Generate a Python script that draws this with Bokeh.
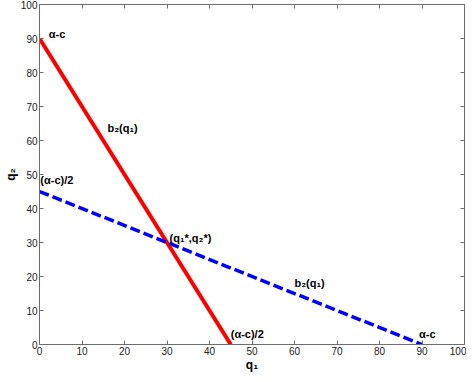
from bokeh.plotting import figure
from bokeh.models import LinearAxis, Range1d, FixedTicker, ColumnDataSource
from bokeh.core.properties import value
from bokeh.embed import file_html
from bokeh.resources import INLINE

# Data
red_q1 = [0, 45]
red_q2 = [90, 0]
blue_q1 = [0, 90]
blue_q2 = [45, 0]
ticks = [0, 10, 20, 30, 40, 50, 60, 70, 80, 90, 100]

label_x = [2.2, 16.0, 0.2, 30.6, 60.0, 45.0, 89.3]
label_y = [91.2, 63.6, 48.4, 31.4, 18.0, 3.0, 3.0]
label_t = ["α-c", "b₂(q₁)", "(α-c)/2", "(q₁*,q₂*)", "b₂(q₁)", "(α-c)/2", "α-c"]

FONT = "Liberation Sans"
AX = "#6e6e6e"

p = figure(width=466, height=374, output_backend="svg", toolbar_location=None,
           x_range=Range1d(0, 100), y_range=Range1d(0, 100),
           min_border_left=2, min_border_right=2, min_border_top=4, min_border_bottom=2)
p.grid.visible = False
p.outline_line_color = AX
p.outline_line_width = 1
p.background_fill_color = "white"

for ax in (p.xaxis[0], p.yaxis[0]):
    ax.ticker = FixedTicker(ticks=ticks)
    ax.major_tick_in = 4
    ax.major_tick_out = 0
    ax.minor_tick_line_color = None
    ax.axis_line_color = AX
    ax.major_tick_line_color = AX
    ax.major_label_text_font = FONT
    ax.major_label_text_font_size = "10px"
    ax.major_label_text_color = "#222222"
    ax.major_label_standoff = 2
    ax.axis_label_text_font = FONT
    ax.axis_label_text_font_style = "bold"
    ax.axis_label_text_font_size = "12px"
    ax.axis_label_text_color = "black"
    ax.axis_label_standoff = 0

p.xaxis[0].axis_label = "q₁"
p.yaxis[0].axis_label = "q₂"

for loc in ("above", "right"):
    a = LinearAxis(ticker=FixedTicker(ticks=ticks))
    a.major_tick_in = 4
    a.major_tick_out = 0
    a.minor_tick_line_color = None
    a.axis_line_color = AX
    a.major_tick_line_color = AX
    a.major_label_text_font_size = "1px"
    a.major_label_text_color = None
    a.major_label_standoff = 0
    p.add_layout(a, loc)

p.line(red_q1, red_q2, line_color="#ff0000", line_width=4)
p.line(blue_q1, blue_q2, line_color="#0000ff", line_width=3.5, line_dash="10 4")

src = ColumnDataSource(dict(x=label_x, y=label_y, t=label_t))
p.text(x="x", y="y", text="t", source=src, text_font=value(FONT),
       text_font_style="bold", text_font_size="11px", text_color="black",
       text_baseline="middle", text_align="left")

open("out.html", "w").write(file_html(p, INLINE))
